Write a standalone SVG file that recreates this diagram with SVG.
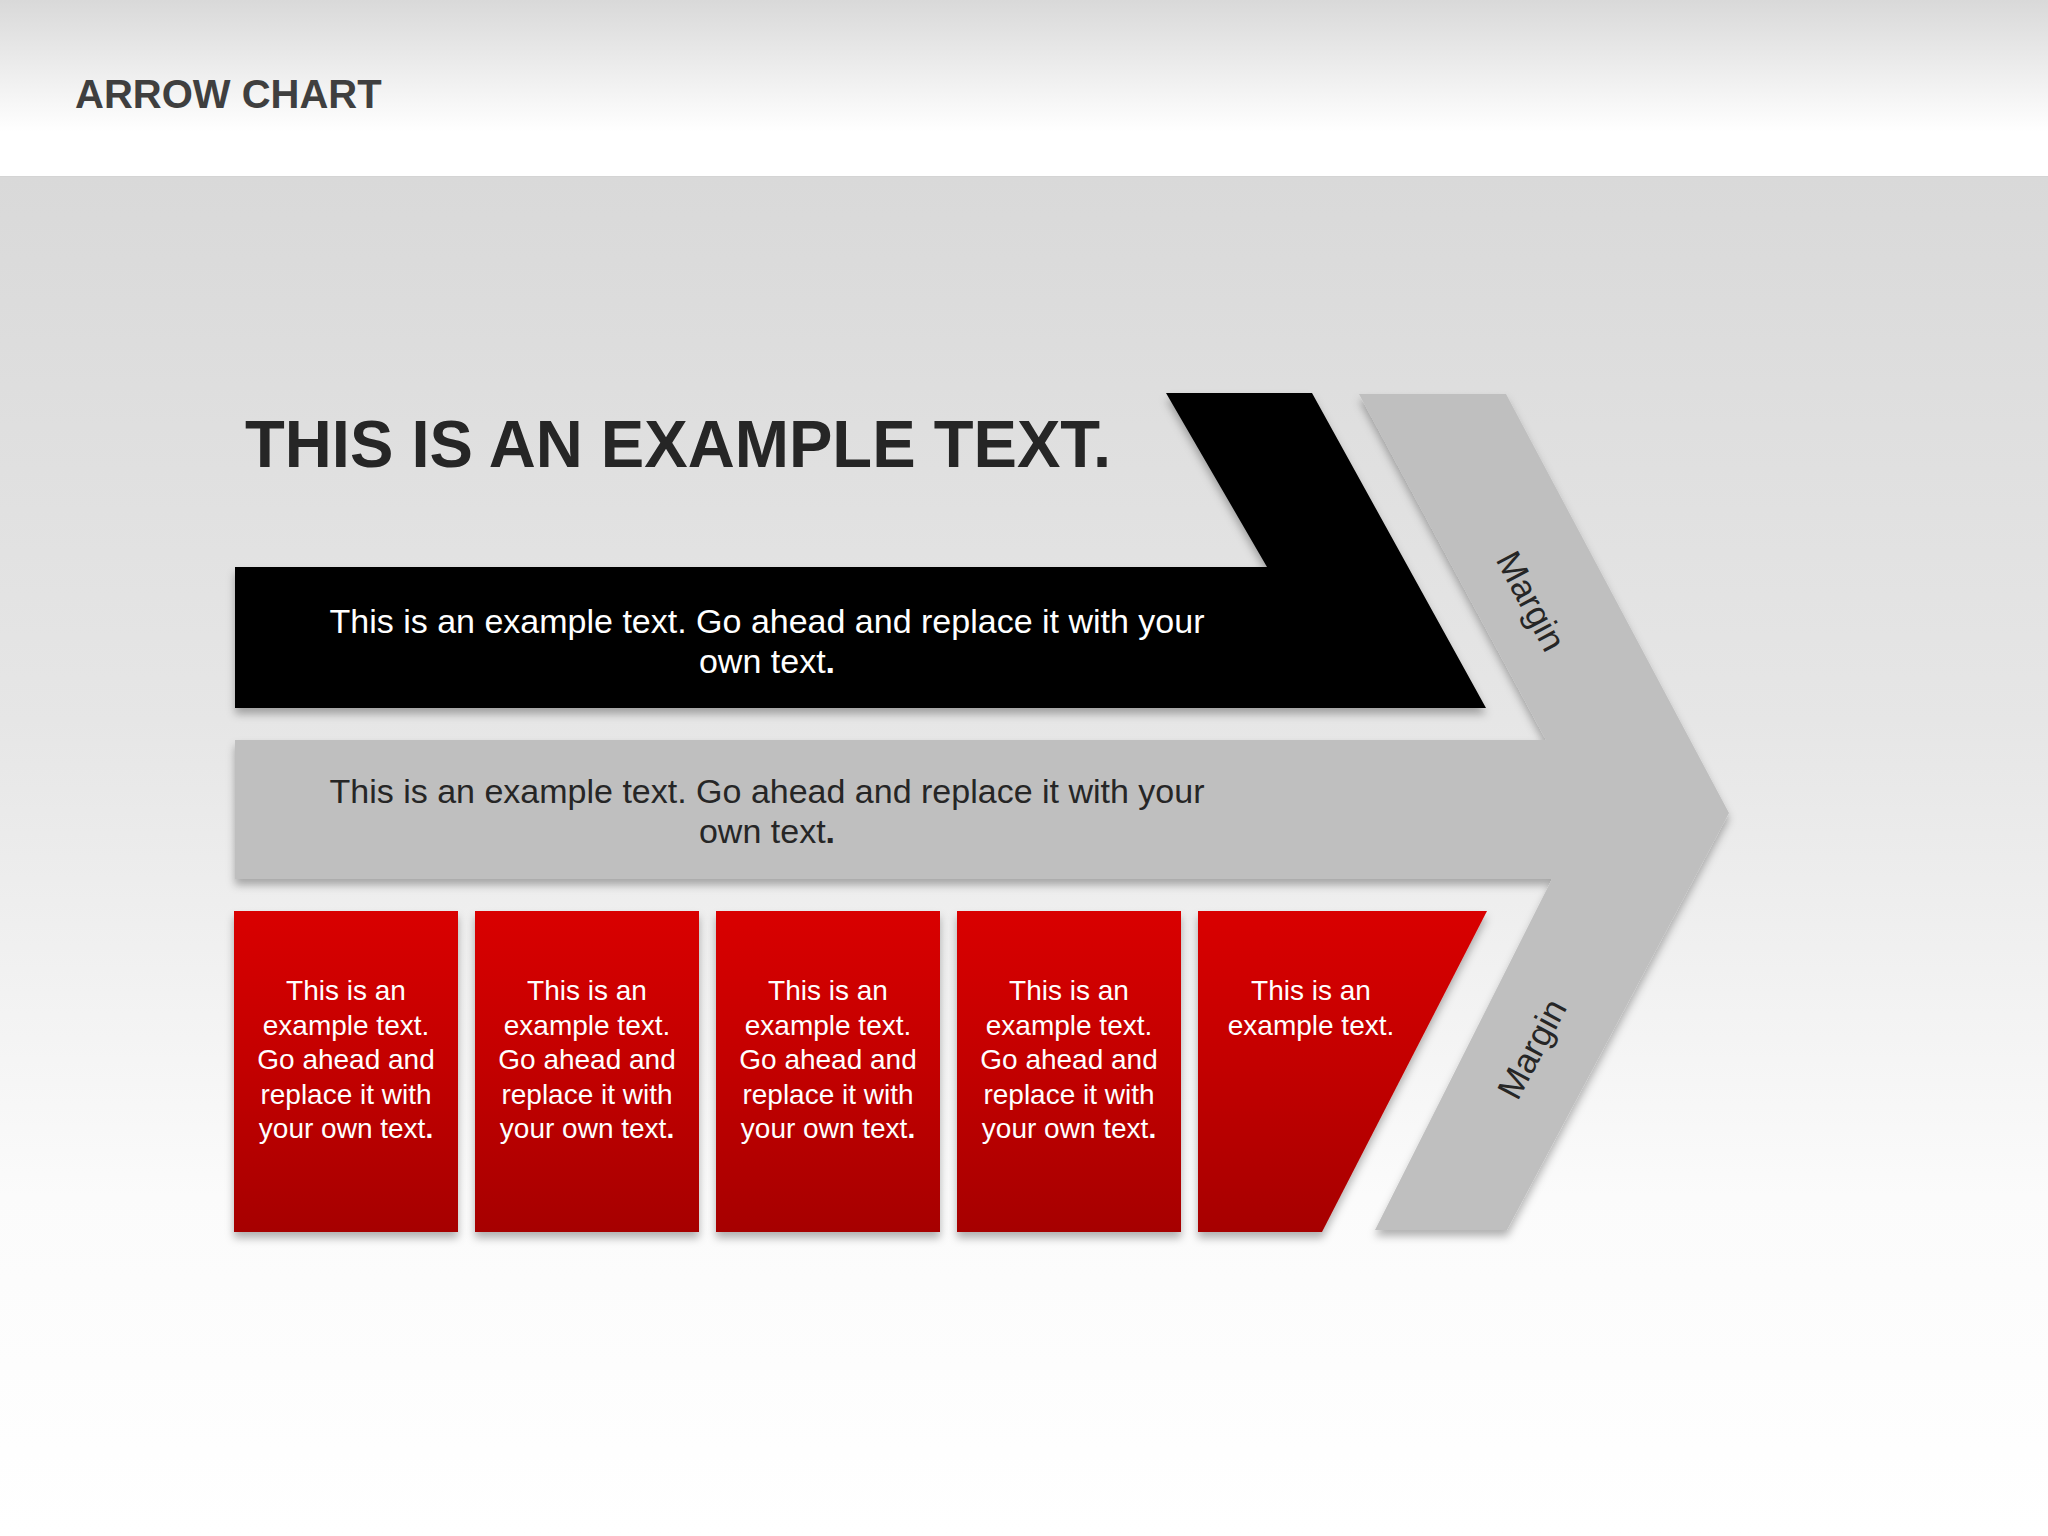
<svg xmlns="http://www.w3.org/2000/svg" width="2048" height="1536" viewBox="0 0 2048 1536">
  <defs>
    <linearGradient id="hdr" x1="0" y1="0" x2="0" y2="1">
      <stop offset="0" stop-color="#d9d9d9"/>
      <stop offset="0.75" stop-color="#ffffff"/>
      <stop offset="1" stop-color="#ffffff"/>
    </linearGradient>
    <linearGradient id="body" x1="0" y1="0" x2="0" y2="1">
      <stop offset="0" stop-color="#d9d9d9"/>
      <stop offset="0.4" stop-color="#e6e6e6"/>
      <stop offset="0.75" stop-color="#fbfbfb"/>
      <stop offset="1" stop-color="#ffffff"/>
    </linearGradient>
    <linearGradient id="red" x1="0" y1="0" x2="0" y2="1">
      <stop offset="0" stop-color="#d90000"/>
      <stop offset="0.5" stop-color="#c20000"/>
      <stop offset="1" stop-color="#a60004"/>
    </linearGradient>
    <filter id="shadow" x="-5%" y="-5%" width="110%" height="115%">
      <feDropShadow dx="0" dy="6" stdDeviation="4" flood-color="#000" flood-opacity="0.3"/>
    </filter>
    <style>
      .t { font-family: "Liberation Sans", Arial, Helvetica, sans-serif; }
      .band { font-size: 34px; text-anchor: middle; }
      .box { font-size: 28px; fill: #ffffff; text-anchor: middle; }
      .margin { font-size: 35px; fill: #262626; text-anchor: middle; }
      .redbox { fill: url(#red); filter: url(#shadow); }
    </style>
  </defs>

  <rect x="0" y="0" width="2048" height="176" fill="url(#hdr)"/>
  <rect x="0" y="176" width="2048" height="1360" fill="url(#body)"/>
  <line x1="0" y1="176.5" x2="2048" y2="176.5" stroke="#d4d4d4" stroke-width="1"/>

  <text class="t" x="75" y="108" font-size="40" font-weight="bold" fill="#3f3f3f">ARROW CHART</text>

  <g id="title">
    <text class="t" x="245" y="467" font-size="66" font-weight="bold" fill="#262626" textLength="866" lengthAdjust="spacingAndGlyphs">THIS IS AN EXAMPLE TEXT.</text>
  </g>

  <g id="gray-chevron">
    <polygon points="235,740 1546,740 1359,394 1506,394 1729,813 1507,1230 1375,1230 1552,879 235,879" fill="#bfbfbf" filter="url(#shadow)"/>
    <text class="t band" x="767" y="803" fill="#262626">This is an example text. Go ahead and replace it with your</text>
    <text class="t band" x="767" y="843" fill="#262626">own text<tspan font-weight="bold">.</tspan></text>
    <text class="t margin" transform="translate(1531,601) rotate(62)" y="12">Margin</text>
    <text class="t margin" transform="translate(1532,1049) rotate(-62)" y="12">Margin</text>
  </g>

  <g id="black-arrow">
    <polygon points="235,567 1267,567 1166,393 1312,393 1486,708 235,708" fill="#000000" filter="url(#shadow)"/>
    <text class="t band" x="767" y="633" fill="#ffffff">This is an example text. Go ahead and replace it with your</text>
    <text class="t band" x="767" y="673" fill="#ffffff">own text<tspan font-weight="bold">.</tspan></text>
  </g>

  <g id="box1">
    <rect class="redbox" x="234" y="911" width="224" height="321"/>
    <text class="t box" x="346" y="1000">This is an</text>
    <text class="t box" x="346" y="1034.5">example text.</text>
    <text class="t box" x="346" y="1069">Go ahead and</text>
    <text class="t box" x="346" y="1103.5">replace it with</text>
    <text class="t box" x="346" y="1138">your own text<tspan font-weight="bold">.</tspan></text>
  </g>
  <g id="box2">
    <rect class="redbox" x="475" y="911" width="224" height="321"/>
    <text class="t box" x="587" y="1000">This is an</text>
    <text class="t box" x="587" y="1034.5">example text.</text>
    <text class="t box" x="587" y="1069">Go ahead and</text>
    <text class="t box" x="587" y="1103.5">replace it with</text>
    <text class="t box" x="587" y="1138">your own text<tspan font-weight="bold">.</tspan></text>
  </g>
  <g id="box3">
    <rect class="redbox" x="716" y="911" width="224" height="321"/>
    <text class="t box" x="828" y="1000">This is an</text>
    <text class="t box" x="828" y="1034.5">example text.</text>
    <text class="t box" x="828" y="1069">Go ahead and</text>
    <text class="t box" x="828" y="1103.5">replace it with</text>
    <text class="t box" x="828" y="1138">your own text<tspan font-weight="bold">.</tspan></text>
  </g>
  <g id="box4">
    <rect class="redbox" x="957" y="911" width="224" height="321"/>
    <text class="t box" x="1069" y="1000">This is an</text>
    <text class="t box" x="1069" y="1034.5">example text.</text>
    <text class="t box" x="1069" y="1069">Go ahead and</text>
    <text class="t box" x="1069" y="1103.5">replace it with</text>
    <text class="t box" x="1069" y="1138">your own text<tspan font-weight="bold">.</tspan></text>
  </g>
  <g id="box5">
    <polygon class="redbox" points="1198,911 1487,911 1322,1232 1198,1232"/>
    <text class="t box" x="1311" y="1000">This is an</text>
    <text class="t box" x="1311" y="1034.5">example text.</text>
  </g>

  <g id="connectors"/>
</svg>
